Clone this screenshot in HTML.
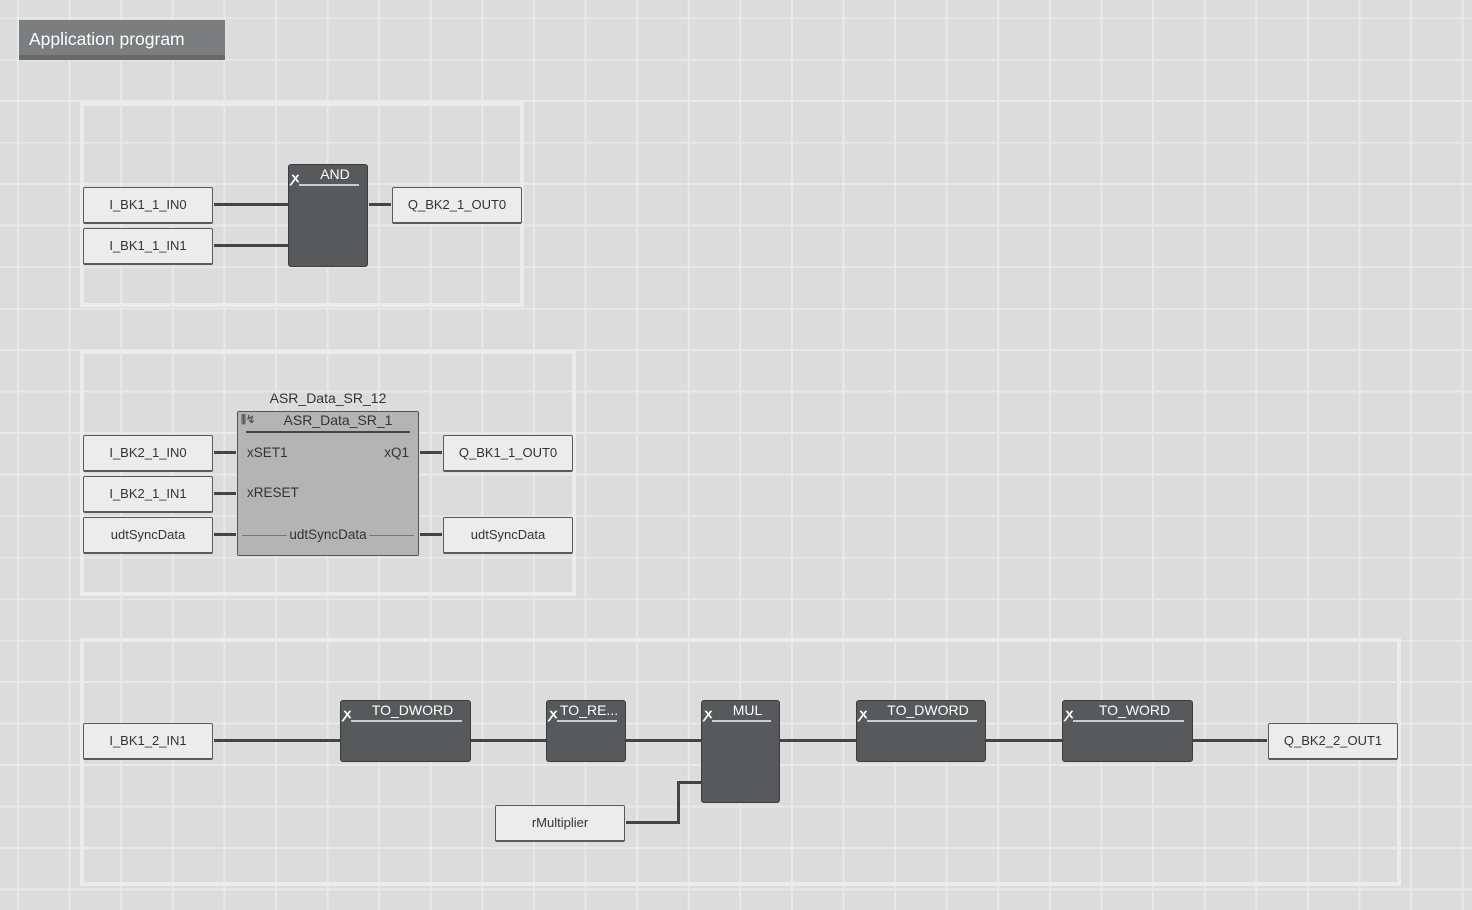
<!DOCTYPE html>
<html><head><meta charset="utf-8"><style>
body{margin:0;width:1472px;height:910px;overflow:hidden;position:relative;font-family:"Liberation Sans",sans-serif;
background-color:#dcdcdc;
background-image:linear-gradient(to right,#e9e9e9 0,#e9e9e9 2px,transparent 2px),linear-gradient(to bottom,#e9e9e9 0,#e9e9e9 2px,transparent 2px);
background-size:51.6px 41.5px;background-position:17px 17px;}
.a{position:absolute;box-sizing:border-box}
.panel{position:absolute;box-sizing:border-box;border:4px solid #ececec}
.var{position:absolute;box-sizing:border-box;background:#ececec;border:1.5px solid #5a5a5a;border-bottom-width:2px;border-radius:2px;font-size:13px;color:#333;text-align:center;line-height:33px;height:37px;width:130px}
.blk{position:absolute;box-sizing:border-box;background:#58595b;border:1.5px solid #3c3c3c;border-radius:3px;color:#fff}
.blk .t{position:absolute;top:1px;left:0;right:0;text-align:center;font-size:14px;padding-left:14px}
.blk .u{position:absolute;top:19px;left:10px;right:8px;height:2px;background:#ccc}
.blk .i{position:absolute;top:3px;left:3px;font-size:13px;font-weight:bold;transform:scaleX(1.1)}
.w{position:absolute;background:#444}
</style></head><body>
<div class="a" style="left:19px;top:20px;width:206px;height:40px;background:#7b7d7f;border-bottom:5px solid #66686a;color:#fff;font-size:17.5px;line-height:38px;padding-left:10px">Application program</div>

<div class="panel" style="left:80px;top:102px;width:444px;height:205px"></div>
<div class="panel" style="left:80px;top:350px;width:496px;height:246px"></div>
<div class="panel" style="left:80px;top:638px;width:1321px;height:248px"></div>

<div class="var" style="left:83px;top:187px">I_BK1_1_IN0</div>
<div class="var" style="left:83px;top:228px">I_BK1_1_IN1</div>
<div class="var" style="left:392px;top:187px">Q_BK2_1_OUT0</div>
<div class="w" style="left:214px;top:203px;width:74px;height:3px"></div>
<div class="w" style="left:214px;top:244px;width:74px;height:3px"></div>
<div class="w" style="left:369px;top:203px;width:22px;height:3px"></div>
<div class="blk" style="left:288px;top:164px;width:80px;height:103px"><span class="i">ꭗ</span><div class="t">AND</div><div class="u"></div></div>

<div class="a" style="left:237px;top:390px;width:182px;text-align:center;font-size:14px;color:#333">ASR_Data_SR_12</div>
<div class="var" style="left:83px;top:435px">I_BK2_1_IN0</div>
<div class="var" style="left:83px;top:476px">I_BK2_1_IN1</div>
<div class="var" style="left:83px;top:517px">udtSyncData</div>
<div class="var" style="left:443px;top:435px">Q_BK1_1_OUT0</div>
<div class="var" style="left:443px;top:517px">udtSyncData</div>
<div class="w" style="left:214px;top:451px;width:22px;height:3px"></div>
<div class="w" style="left:214px;top:492px;width:22px;height:3px"></div>
<div class="w" style="left:214px;top:533px;width:22px;height:3px"></div>
<div class="w" style="left:420px;top:451px;width:22px;height:3px"></div>
<div class="w" style="left:420px;top:533px;width:22px;height:3px"></div>
<div class="a" style="left:237px;top:411px;width:182px;height:145px;background:#b4b4b4;border:1.5px solid #555;border-radius:2px;color:#333;font-size:13.5px">
 <div class="a" style="left:3px;top:1px;font-size:11px;color:#555;font-weight:bold">⫼↯</div>
 <div class="a" style="left:0;right:0;top:0;text-align:center;padding-left:20px;font-size:14px">ASR_Data_SR_1</div>
 <div class="a" style="left:8px;right:8px;top:19px;height:2px;background:#444"></div>
 <div class="a" style="left:9px;top:33px">xSET1</div>
 <div class="a" style="right:9px;top:33px">xQ1</div>
 <div class="a" style="left:9px;top:73px">xRESET</div>
 <div class="a" style="left:4px;right:4px;top:123px;height:1px;background:#777"></div>
 <div class="a" style="left:0;right:0;top:115px;text-align:center"><span style="background:#b4b4b4;padding:0 2px">udtSyncData</span></div>
</div>

<div class="var" style="left:83px;top:723px">I_BK1_2_IN1</div>
<div class="var" style="left:1268px;top:723px">Q_BK2_2_OUT1</div>
<div class="var" style="left:495px;top:805px">rMultiplier</div>
<div class="w" style="left:214px;top:739px;width:1053px;height:3px"></div>
<div class="w" style="left:626px;top:821px;width:54px;height:3px"></div>
<div class="w" style="left:677px;top:781px;width:3px;height:43px"></div>
<div class="w" style="left:677px;top:781px;width:24px;height:3px"></div>
<div class="blk" style="left:340px;top:700px;width:131px;height:62px"><span class="i">ꭗ</span><div class="t">TO_DWORD</div><div class="u"></div></div>
<div class="blk" style="left:546px;top:700px;width:80px;height:62px"><span class="i">ꭗ</span><div class="t" style="padding-left:10px;text-align:left;left:3px">TO_RE...</div><div class="u"></div></div>
<div class="blk" style="left:701px;top:700px;width:79px;height:103px"><span class="i">ꭗ</span><div class="t">MUL</div><div class="u"></div></div>
<div class="blk" style="left:856px;top:700px;width:130px;height:62px"><span class="i">ꭗ</span><div class="t">TO_DWORD</div><div class="u"></div></div>
<div class="blk" style="left:1062px;top:700px;width:131px;height:62px"><span class="i">ꭗ</span><div class="t">TO_WORD</div><div class="u"></div></div>
</body></html>
